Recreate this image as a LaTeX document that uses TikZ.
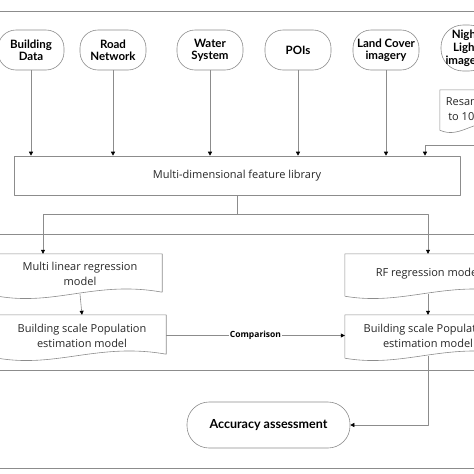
\documentclass[tikz,border=0pt]{standalone}
\usepackage{fontspec}
\setmainfont{Open Sans}
\newfontfamily\labelfont{Lato}
\usetikzlibrary{arrows.meta,calc}

% outline of a document box with a wavy bottom
\newcommand{\wavyoutline}[1]{%
\draw[conn] ([yshift=-2pt]#1.south west) -- (#1.north west) -- (#1.north east) -- ([yshift=2pt]#1.south east)
  .. controls ($(#1.south west)!0.6!(#1.south east)+(0pt,14pt)$) and ($(#1.south west)!0.35!(#1.south east)+(0pt,-12pt)$) .. ([yshift=-2pt]#1.south west);}

\begin{document}
\begin{tikzpicture}[x=1pt,y=-1pt,line join=round,
  conn/.style={draw=black!45,line width=0.6pt},
  arrowline/.style={conn,-{Triangle[black,width=4pt,length=4pt]}},
  term/.style={conn,rounded corners=18pt,minimum width=66pt,minimum height=40pt,align=center,inner sep=1pt,
    font=\labelfont\bfseries\fontsize{11.5}{12}\selectfont},
  wavy/.style={align=center,inner sep=0pt,text=black!85,font=\fontsize{11}{15}\selectfont}]
\useasboundingbox (0,0) rectangle (474,474);
\foreach \y in {11,234,370,468} \draw[conn] (0,\y) -- (474,\y);

% data sources
\foreach \n/\x/\t in {bld/31/Building\\Data,road/113/Road\\Network,water/210/Water\\System,poi/298/POIs,land/386/Land Cover\\imagery}
  \node[term] (\n) at (\x,50) {\t};
\node[term,minimum width=50pt,minimum height=46pt,rounded corners=22pt,font=\labelfont\bfseries\fontsize{11.5}{13}\selectfont] (night) at (466,48) {Night\\Light\\imagery};
\node[wavy,minimum width=62pt,minimum height=38pt] (rs) at (471,109) {Resample\\to 100 m};
\wavyoutline{rs}

% feature library
\node[conn,minimum width=446pt,minimum height=39pt,text=black!85,font=\fontsize{11}{13}\selectfont] (lib) at (237,175.5) {Multi-dimensional feature library};
\foreach \n in {bld,road,water,poi,land} \draw[arrowline] (\n) -- (\n |- lib.north);
\draw[arrowline] ([xshift=12pt]night.south) -- ([xshift=8pt]rs.north);
\coordinate (rsturn) at (425,145);
\draw[arrowline] ([xshift=8pt]rs.south) |- (rsturn) -- (rsturn |- lib.north);

% models
\node[wavy,minimum width=164pt,minimum height=40pt] (mlr) at (80,274) {Multi linear regression\\model};
\node[wavy,minimum width=168pt,minimum height=41pt] (bsl) at (82,335.5) {Building scale Population\\estimation model};
\node[wavy,minimum width=166pt,minimum height=40pt] (rf) at (428,274) {RF regression model};
\node[wavy,minimum width=166pt,minimum height=41pt] (bsr) at (428,335.5) {Building scale Population\\estimation model};
\foreach \n in {mlr,bsl,rf,bsr} \wavyoutline{\n};

\coordinate (split) at (237,214);
\draw[conn] (lib.south) -- (split);
\draw[arrowline] (split) -| ([xshift=-37pt]mlr.north);
\draw[arrowline] (split) -| (rf.north);
\draw[arrowline] (mlr.south) -- (bsl.north);
\draw[arrowline] (rf.south) -- (bsr.north);
\draw[arrowline] (bsl.east) -- node[fill=white,inner sep=1pt,font=\bfseries\fontsize{8.5}{10}\selectfont] {Comparison} (bsr.west);

% assessment
\node[term,minimum width=163pt,minimum height=46pt,rounded corners=22pt,font=\labelfont\bfseries\fontsize{12.5}{14}\selectfont] (acc) at (268.5,425) {Accuracy assessment};
\draw[arrowline] (bsr.south) |- (acc.east);
\end{tikzpicture}
\end{document}
